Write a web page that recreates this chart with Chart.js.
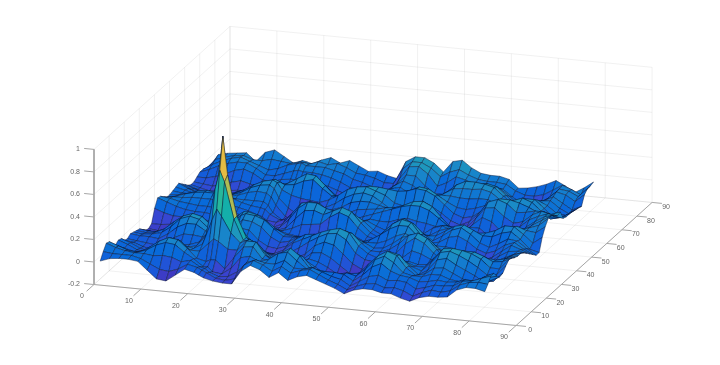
<!DOCTYPE html>
<html>
<head>
<meta charset="utf-8">
<script src="https://cdn.jsdelivr.net/npm/chart.js@4"></script>
<style>
  html, body { margin: 0; padding: 0; background: #fff; }
  canvas { display: block; }
</style>
</head>
<body>
<canvas id="surface" width="720" height="365"></canvas>
<script>
// sampled surface: z in hundredths, one row per y value, one column per x value
const xValues = [1,3,5,7,9,11,13,15,17,19,21, 22, 23,25,27,29,31,33,35,37,39,41, 43,45,47,49,51,53,55,57,59,61, 63,65,67,69,71,73,75,77,79,81,83];
const yValues = [1,3,5,7,9,11,13,15,17,19,21,23,25,27,29,31,33,35,37,39,41,43,45,47,49,51,53,55,57,59,61,63,65,67,69,71,73];
const zRows = [
  [0,3,4,4,3,-4,-11,-12,-6,0,-2, -4, -6,-8,-9,-9,3,9,6,0,5,-1, 3,5,2,-1,-4,-8,-4,-2,-2,-4, -4,-7,-9,-5,-3,-3,-2,5,8,8,6],
  [6,5,5,5,3,-1,-5,-6,-3,2,0, -2, -4,-8,-9,-7,6,11,8,3,8,3, 6,8,4,0,-3,-7,-3,0,1,-2, -1,-3,-7,-3,0,-1,1,7,10,11,10],
  [11,8,6,5,5,4,5,4,1,3,-2, -3, -6,-9,-8,-3,6,9,7,7,11,5, 5,7,4,1,-1,-6,-1,4,6,2, 3,2,-3,-1,2,2,3,8,9,12,15],
  [10,7,4,3,6,11,14,13,7,2,-4, -4, -8,-9,-3,7,9,5,8,14,16,9, 3,3,2,2,1,-4,2,10,14,8, 5,4,1,2,4,3,4,7,6,11,15],
  [5,3,0,1,6,12,16,15,8,0,-2, 0, 0,-7,4,14,15,5,4,12,17,11, 1,-2,-3,-2,0,-2,5,14,18,13, 5,3,3,6,6,3,2,2,2,8,10],
  [2,0,-2,-1,3,9,13,11,4,4,12, 16, 14,8,8,17,17,6,0,5,11,8, -1,-6,-8,-6,-3,-2,7,15,20,17, 7,1,3,9,10,6,2,-1,-2,3,7],
  [4,1,-3,-4,-2,3,6,5,3,8,30, 40, 34,20,12,16,12,2,-4,-2,3,2, -3,-8,-11,-11,-7,-3,3,11,17,15, 6,-1,4,14,16,11,7,3,-2,0,8],
  [3,0,-4,-6,-6,-2,1,1,3,12,55, 72, 62,30,12,11,6,-1,-6,-6,-2,1, -1,-5,-10,-12,-11,-6,-3,4,10,9, 3,0,8,18,20,17,13,8,2,3,12],
  [-1,-2,-5,-7,-6,-3,0,1,4,14,62, 100, 66,30,12,5,0,-3,-7,-8,-3,4, 5,1,-5,-11,-12,-8,-6,-1,3,4, 1,1,10,19,20,19,17,13,6,6,15],
  [-2,-3,-4,-5,-2,3,7,7,6,10,34, 48, 38,18,8,1,-3,-5,-6,-5,0,8, 12,10,3,-5,-9,-8,-8,-5,-1,2, 0,1,8,14,15,16,16,13,9,10,14],
  [0,-1,-1,-2,3,10,14,14,9,6,14, 18, 16,8,4,-3,-6,-6,-3,2,8,13, 17,18,13,2,-3,-4,-6,-3,2,9, 7,3,3,6,9,10,10,9,8,10,12],
  [-1,-2,-1,1,7,15,18,16,9,3,0, 3, 5,2,-5,-8,-8,-4,3,7,11,15, 18,20,17,6,0,-3,-2,3,12,18, 14,6,0,-1,1,3,3,2,4,9,11],
  [-2,-3,-2,2,9,15,18,16,9,2,0, 4, 9,8,0,-5,-6,-3,4,9,10,10, 12,16,14,6,0,0,3,9,17,20, 16,7,-1,-5,-4,-2,-1,-1,2,8,11],
  [-3,-4,-4,-1,5,10,12,10,6,2,5, 10, 14,13,9,1,-3,-1,4,5,2,1, 3,7,8,4,0,1,6,12,15,16, 12,4,-3,-6,-8,-7,-4,-1,3,7,9],
  [-6,-7,-6,-4,0,4,5,4,3,5,11, 15, 17,16,13,6,0,0,1,-1,-3,-4, -3,-1,2,2,2,5,10,13,10,8, 6,1,-3,-6,-8,-8,-5,1,6,7,6],
  [-9,-10,-8,-7,-5,-2,-1,0,2,7,13, 16, 16,14,9,3,-1,-2,-3,-5,-7,-6, -4,-3,-1,2,7,13,17,17,9,3, 2,2,1,-3,-6,-7,-3,3,9,6,3],
  [-10,-11,-9,-7,-6,-5,-5,-3,0,5,9, 11, 11,8,3,-1,-3,-4,-6,-6,-2,4, 5,1,-3,-2,7,15,20,18,8,1, 3,8,10,6,0,-3,0,6,9,4,0],
  [-8,-8,-7,-5,-3,-4,-6,-5,-2,2,5, 5, 3,0,-3,-3,0,4,5,6,13,18, 15,6,-1,-3,5,14,18,14,6,1, 6,12,15,10,3,0,4,9,8,2,-3],
  [3,0,-2,-2,-1,-2,-4,-4,-3,0,1, 1, -1,-5,-6,-3,6,14,15,12,16,20, 17,8,0,-4,1,9,11,7,2,3, 8,13,15,11,7,7,11,13,7,-1,-3],
  [10,7,4,2,1,1,0,-2,-3,-2,-2, -3, -6,-8,-6,2,13,19,19,15,13,13, 12,7,0,-4,-2,2,2,0,0,5, 8,8,8,6,7,10,15,15,9,2,8],
  [9,8,6,5,4,4,3,2,0,-1,-3, -5, -8,-9,-5,5,15,17,16,9,5,4, 5,5,1,-2,-2,-2,-3,-2,4,7, 4,0,-2,-2,2,6,11,13,10,9,15],
  [6,7,7,8,8,8,7,5,3,1,-2, -3, -6,-7,-3,4,12,13,9,2,-1,-1, 1,4,3,3,6,8,6,5,3,5, 3,-2,-6,-7,-4,0,5,8,10,13,20],
  [3,5,8,10,11,11,10,8,5,3,2, 1, -3,-7,-7,0,6,7,3,-2,-2,0, 3,6,9,12,15,17,17,14,8,2, 1,-1,-6,-9,-10,-7,-2,4,10,15,20],
  [3,4,6,9,10,9,7,5,5,5,5, 2, -4,-10,-12,-7,-2,0,-1,-1,2,6, 7,8,10,11,14,18,19,15,6,-2, -4,0,0,-6,-11,-9,-3,5,11,16,18],
  [4,3,3,4,5,4,4,6,9,11,10, 7, 0,-9,-12,-10,-5,-2,1,4,9,11, 11,9,7,6,7,9,9,6,-1,-8, -8,0,7,4,-4,-6,2,9,13,16,15],
  [5,3,1,0,0,1,3,6,11,14,15, 12, 4,-4,-9,-9,-5,0,4,10,14,16, 14,9,3,0,0,0,-1,-4,-7,-10, -6,3,13,14,7,2,4,11,15,13,16],
  [6,2,-1,-2,-3,-1,2,6,11,15,17, 15, 9,5,3,2,1,4,9,15,18,19, 16,13,7,5,8,11,7,2,-4,-7, -3,5,16,19,16,9,10,12,12,9,8],
  [3,-1,-4,-5,-4,-2,1,4,8,12,15, 13, 11,12,16,18,11,5,6,11,15,17, 17,16,15,16,19,18,14,7,0,-3, -1,5,13,17,17,15,12,8,5,6,7],
  [0,-3,-6,-7,-7,-5,-1,2,6,8,9, 9, 10,15,20,19,11,3,-1,2,7,10, 11,12,12,14,18,17,12,7,3,2, 4,7,8,10,14,17,14,7,1,3,7],
  [-3,-6,-8,-9,-8,-7,-4,-1,2,4,4, 4, 6,11,15,13,6,-1,-5,-5,-1,3, 5,6,4,4,6,10,10,10,9,9, 10,10,6,4,8,14,14,7,-1,1,7],
  [-5,-7,-9,-8,-7,-6,-6,-4,0,2,1, 0, 2,4,6,2,-3,-7,-9,-8,-5,0, 4,5,1,-2,-1,3,9,14,15,15, 16,14,8,3,3,8,11,7,1,0,6],
  [-5,-6,-7,-5,-2,0,-2,-4,-2,1,0, -1, -2,-1,0,-3,-7,-9,-10,-8,-5,1, 6,8,3,-2,-4,0,8,15,19,19, 18,16,9,3,0,3,8,9,3,-1,5],
  [-3,-3,-1,2,6,8,5,0,-1,2,3, 3, 2,2,2,0,-3,-6,-7,-6,-3,0, 6,11,8,2,-3,-1,6,13,16,15, 16,14,7,0,-4,-1,6,10,5,0,4],
  [-1,2,6,9,11,11,7,2,2,5,8, 9, 8,8,7,5,2,-2,-3,-3,-4,-3, 5,14,14,6,0,0,6,11,12,9, 10,10,4,-3,-7,-3,5,12,10,5,12],
  [-1,4,8,11,13,10,7,4,6,10,12, 13, 11,11,11,9,7,3,1,-2,-5,-6, 8,19,20,14,4,8,14,12,9,6, 7,7,1,-4,-7,-4,4,12,11,7,15],
  [-3,6,9,11,12,9,9,11,10,9,11, 11, 10,13,11,13,10,6,5,3,0,0, 14,21,21,17,10,15,18,14,11,10, 10,9,4,1,1,3,8,13,10,6,15],
  [-4,8,10,11,12,5,14,17,12,7,10, 9, 8,12,15,11,14,10,6,7,4,2, 18,23,23,19,12,22,24,18,14,13, 13,11,4,5,7,10,14,10,5,10,16]
];

const xTicks = [0,10,20,30,40,50,60,70,80,90];
const yTicks = [0,10,20,30,40,50,60,70,80,90];
const zTicks = [-0.2,0,0.2,0.4,0.6,0.8,1];

// view of the matlab axes, orthographic so it is just three screen vectors
const view = { ox: 94, oy: 262, xx: 4.69, xy: 0.455, yx: 1.511, yy: -1.367, zy: -112.6 };
function project(x, y, z) {
  return {
    x: view.ox + x * view.xx + y * view.yx,
    y: view.oy + x * view.xy + y * view.yy + z * view.zy
  };
}

// parula-like colours, position 0..1 over z -0.2..1
const colourStops = [
  [0, 62,38,168], [0.05, 65,50,185], [0.1, 55,70,210], [0.14, 20,92,218], [0.2, 8,106,218], [0.27, 22,128,205],
  [0.33, 30,150,190], [0.45, 20,175,170], [0.55, 60,190,140], [0.65, 150,190,90],
  [0.75, 225,185,70], [0.85, 250,200,50], [1, 250,250,20]
];
function colourFor(z) {
  const t = Math.min(1, Math.max(0, (z + 0.2) / 1.2));
  let k = 0;
  while (k < colourStops.length - 2 && t > colourStops[k + 1][0]) k++;
  const a = colourStops[k], b = colourStops[k + 1];
  const f = (t - a[0]) / (b[0] - a[0]);
  const c = [1, 2, 3].map(n => Math.round(a[n] + (b[n] - a[n]) * f));
  return 'rgb(' + c.join(',') + ')';
}

function lineSet(points, colour, width) {
  return { data: points, showLine: true, fill: false, borderColor: colour, borderWidth: width, pointRadius: 0, tension: 0 };
}

// listed back to front, reversed at the end because chart.js paints index 0 last
const layers = [];
const gridColour = 'rgba(60,60,60,0.07)';
const axisColour = '#a6a6a6';

xTicks.forEach(x => {
  layers.push(lineSet([project(x, 0, -0.2), project(x, 90, -0.2), project(x, 90, 1)], gridColour, 1));
});
yTicks.forEach(y => {
  layers.push(lineSet([project(90, y, -0.2), project(0, y, -0.2), project(0, y, 1)], gridColour, 1));
});
zTicks.forEach(z => {
  layers.push(lineSet([project(0, 0, z), project(0, 90, z), project(90, 90, z)], gridColour, 1));
});

// painter's order: far rows first, left to right inside a row
for (let j = yValues.length - 2; j >= 0; j--) {
  for (let i = 0; i < xValues.length - 1; i++) {
    const z00 = zRows[j][i] / 100, z10 = zRows[j][i + 1] / 100;
    const z11 = zRows[j + 1][i + 1] / 100, z01 = zRows[j + 1][i] / 100;
    const first = project(xValues[i], yValues[j], z00);
    layers.push({
      data: [first, project(xValues[i + 1], yValues[j], z10), project(xValues[i + 1], yValues[j + 1], z11), project(xValues[i], yValues[j + 1], z01), first],
      showLine: true,
      fill: 'shape',
      backgroundColor: colourFor(z00),
      borderColor: 'rgba(10,20,50,0.75)',
      borderWidth: 0.6,
      pointRadius: 0,
      tension: 0
    });
  }
}

layers.push(lineSet([project(0, 0, 1), project(0, 0, -0.2), project(90, 0, -0.2), project(90, 90, -0.2)], axisColour, 1));
xTicks.forEach(x => {
  layers.push(lineSet([project(x, 0, -0.2), project(x, -4.9, -0.2)], axisColour, 1));
});
yTicks.forEach(y => {
  layers.push(lineSet([project(90, y, -0.2), project(92.1, y, -0.2)], axisColour, 1));
});
zTicks.forEach(z => {
  layers.push(lineSet([project(0, 0, z), project(-2.1, 0, z)], axisColour, 1));
});

const tickText = {
  id: 'tickText',
  afterDraw(chart) {
    const { ctx, scales } = chart;
    ctx.save();
    ctx.font = '7px "Liberation Sans"';
    ctx.fillStyle = '#666666';
    ctx.textBaseline = 'middle';
    const put = (text, p, dx, dy, align) => {
      ctx.textAlign = align;
      ctx.fillText(text, scales.x.getPixelForValue(p.x) + dx, scales.y.getPixelForValue(p.y) + dy);
    };
    xTicks.forEach(x => put(String(x), project(x, 0, -0.2), -12, 12, 'center'));
    yTicks.forEach(y => put(String(y), project(90, y, -0.2), 14, 4.5, 'center'));
    zTicks.forEach(z => put(String(z), project(0, 0, z), -14, 0, 'right'));
    ctx.restore();
  }
};

new Chart(document.getElementById('surface'), {
  type: 'scatter',
  data: { datasets: layers.reverse() },
  plugins: [tickText],
  options: {
    responsive: false,
    animation: false,
    events: [],
    layout: { padding: 0 },
    scales: {
      x: { type: 'linear', display: false, min: 0, max: 720 },
      y: { type: 'linear', display: false, min: 0, max: 365, reverse: true }
    },
    plugins: {
      legend: { display: false },
      tooltip: { enabled: false },
      filler: { drawTime: 'beforeDatasetDraw' }
    }
  }
});
</script>
</body>
</html>
